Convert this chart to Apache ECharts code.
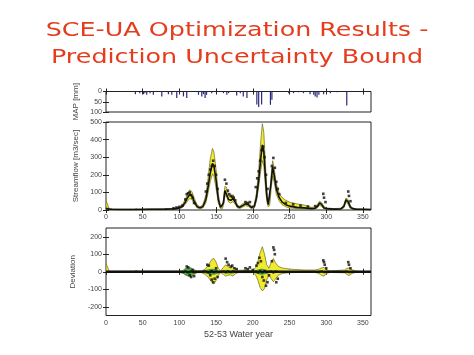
<!DOCTYPE html>
<html><head><meta charset="utf-8">
<script src="https://cdn.jsdelivr.net/npm/echarts@6/dist/echarts.min.js"></script>
<style>html,body{margin:0;padding:0;background:#fff}#c{width:474px;height:355px}</style>
</head><body><div id="c"></div>
<script>
// ---- Title ----
const titleLines = ['SCE-UA Optimization Results -', 'Prediction Uncertainty Bound'];

// ---- Top panel: MAP [mm] (daily precipitation) ----
const mapDays = [40,46,51,53,55.5,60,64.5,76,85,89.6,96.4,105.5,110,126,130.5,132.7,135,137,144,160,164.6,167,178,183,187,192,205.5,208,212,224,226,249,255.5,262,269,278,283,285,287.5,290,296.5,305.6,314.7,328];
const mapMm   = [13,8,13,8,16,8,16,24,13,16,32,24,32,16,24,13,32,16,8,8,16,8,19,8,24,32,64,75,64,65,40,8,8,4,8,13,16,24,29,16,13,8,4,68];

// ---- Middle panel: streamflow [m3/sec] ----
const days = [0,2,4,8,20,40,41,42,60,80,90,95,100,104,108,111,114,117,120,124,128,132,136,139,142,145,147,150,153,156,158,160,162,164,167,170,173,176,179,182,186,190,194,198,202,205,208,211,213,215,217,219,221,223,225,227,229,232,236,240,245,250,260,270,280,285,288,291,294,297,300,310,320,324,327,330,333,336,340,350,361];
const simFlow = [10,8,5,4,3,3,8,3,4,5,6,8,12,20,45,70,88,80,50,20,12,20,60,130,210,265,250,170,60,15,8,40,110,105,60,55,65,45,20,15,25,35,30,15,20,70,170,300,370,330,200,80,30,40,160,245,200,120,70,45,30,22,15,12,8,10,20,40,30,12,8,5,6,20,58,45,15,8,5,4,3];
const upperFlow = [50,35,10,6,5,5,10,5,6,7,9,12,18,30,60,90,115,105,70,30,18,30,85,180,290,350,330,230,90,25,15,60,135,130,80,75,88,60,30,22,35,45,40,22,30,100,230,400,490,440,280,120,50,60,200,280,240,150,95,70,55,45,35,28,15,18,32,50,40,20,12,8,10,30,68,58,25,12,7,5,4];
const lowerFlow = [5,4,3,2,2,2,5,2,2,3,4,5,8,14,32,50,65,60,35,12,8,12,40,95,160,205,190,120,40,8,4,25,80,80,45,40,48,32,12,8,16,25,20,8,12,50,130,230,280,250,140,50,18,25,120,195,160,90,50,30,18,12,8,6,4,5,12,28,18,6,4,3,3,12,45,32,8,4,3,2,2];
const obsDays = [92,96,100,104,108,110,112,114,116,118,120,136,138,140,142,144,146,148,150,152,162,164,166,168,170,172,174,176,190,193,196,204,206,208,210,212,214,216,218,220,226,228,230,232,234,236,245,255,265,275,285,296,297,299,330,331,333];
const obsFlow = [10,14,18,25,60,90,95,100,85,70,40,105,150,200,230,250,280,250,200,120,172,150,110,90,80,75,70,55,45,40,45,130,180,220,280,340,360,300,200,120,250,296,240,160,120,90,40,32,25,20,22,92,70,45,105,80,50];

// ---- Bottom panel: deviation ----
const devDays = [0,2,4,6,40,41,42,100,105,108,112,116,120,124,130,135,140,144,147,150,153,156,160,163,166,170,173,176,180,190,200,204,207,210,213,216,219,222,225,228,231,235,240,250,270,285,290,294,297,300,305,325,328,331,335,340,345,361];
const devUpper = [42,30,5,3,3,10,3,3,8,18,25,22,12,5,5,15,40,70,76,55,20,5,25,40,30,20,28,15,8,10,8,25,60,110,143,100,40,20,55,76,50,30,22,15,10,10,15,22,25,12,5,10,20,20,12,5,2,2];
const devLower = [-2,-2,-2,-2,-2,-2,-2,-3,-8,-18,-25,-28,-15,-5,-5,-15,-35,-60,-70,-50,-20,-5,-15,-25,-20,-18,-25,-12,-5,-5,-5,-20,-50,-90,-110,-95,-45,-20,-40,-57,-40,-20,-10,-5,-4,-4,-10,-22,-25,-10,-4,-6,-15,-22,-10,-4,-2,-2];
const devGreenUp = [1,1,1,1,1,1,1,1,4,15,20,18,8,2,2,6,12,14,14,12,6,2,4,8,8,6,8,4,2,2,2,6,10,14,14,12,8,4,4,6,4,2,2,1,1,1,2,4,4,2,1,1,3,3,2,1,1,1];
const devGreenLo = [-1,-1,-1,-1,-1,-1,-1,-1,-4,-15,-22,-20,-8,-2,-2,-6,-12,-14,-14,-12,-6,-2,-4,-8,-8,-6,-8,-4,-2,-2,-2,-6,-10,-14,-14,-12,-8,-4,-4,-6,-4,-2,-2,-1,-1,-1,-2,-4,-4,-2,-1,-1,-3,-3,-2,-1,-1,-1];
const devLine = [0,0,0,0,0,10,0,0,-2,2,-3,2,-2,0,0,2,-3,3,-2,2,-2,0,2,-2,2,-2,2,0,0,2,0,2,-3,3,-3,3,-2,0,2,-3,2,0,0,0,0,0,0,2,-2,0,0,0,2,-2,0,0,0,0];
const devObsDays = [110,112,114,116,118,120,138,140,142,144,146,148,150,152,163,165,167,170,172,175,178,190,193,196,200,205,207,209,211,213,215,218,220,222,226,228,229,230,232,234,296,297,298,300,330,331,333];
const devObs = [30,25,-20,-30,10,-25,40,35,-20,-45,-60,-40,20,-30,75,55,40,30,35,20,15,20,15,25,10,35,50,80,60,-30,-50,-80,-60,-20,60,139,125,100,-60,-40,65,55,40,20,55,40,20];

// ---- axis ticks ----
const xTicks = [0,50,100,150,200,250,300,350];
const mapTicks = [0,50,100];
const flowTicks = [0,100,200,300,400,500];
const devTicks = [-200,-100,0,100,200];

const LABEL = {fontFamily:'Liberation Sans', fontSize:7, color:'#444'};
const grids = [
  {left:106, top:91.5, width:265, height:20.5},
  {left:106, top:122, width:265, height:88},
  {left:106, top:228, width:265, height:87.5}
].map(g => Object.assign(g, {show:true, borderColor:'#222', borderWidth:1, containLabel:false}));

function xAx(gi, pos, labels, name) {
  return {
    type:'value', gridIndex:gi, position:pos, min:0, max:361,
    axisLine:{show:false}, splitLine:{show:false},
    axisTick:{show:true, inside:true, length:3, customValues:xTicks, lineStyle:{color:'#222'}},
    axisLabel:Object.assign({show:labels, customValues:xTicks, margin:4}, LABEL),
    name: name || '', nameLocation:'middle', nameGap:15,
    nameTextStyle:{fontFamily:'Liberation Sans', fontSize:9, color:'#444'}
  };
}
function yAx(gi, pos, min, max, ticks, labels, name, inverse, gap) {
  return {
    type:'value', gridIndex:gi, position:pos, min, max, inverse: !!inverse,
    axisLine:{show:false}, splitLine:{show:false},
    axisTick:{show:true, inside:true, length:3, customValues:ticks, lineStyle:{color:'#222'}},
    axisLabel:Object.assign({show:labels, customValues:ticks, margin:4}, LABEL),
    name: name || '', nameLocation:'middle', nameGap:gap || 16, nameRotate:90,
    nameTextStyle:{fontFamily:'Liberation Sans', fontSize:8, color:'#444'}
  };
}

function band(xi, yi, xs, up, lo, fill, stroke, z) {
  return {
    type:'custom', xAxisIndex:xi, yAxisIndex:yi, z:z, silent:true, clip:true,
    data: xs.map((d,i)=>[d, up[i], lo[i]]),
    encode:{x:0, y:[1,2]},
    renderItem: function(params, api) {
      if (params.dataIndex !== 0) return null;
      const pts = [];
      for (let i=0;i<xs.length;i++) pts.push(api.coord([xs[i], up[i]]));
      for (let i=xs.length-1;i>=0;i--) pts.push(api.coord([xs[i], lo[i]]));
      return {type:'polygon', shape:{points:pts}, style:{fill:fill, stroke:stroke, lineWidth:0.7}};
    }
  };
}
const pair = (a,b) => a.map((d,i)=>[d, b[i]]);

const chart = echarts.init(document.getElementById('c'), null, {renderer:'canvas'});
chart.setOption({
  animation:false,
  backgroundColor:'#fff',
  graphic:[
    {type:'text', x:237, y:31, scaleX:1.27, style:{text:titleLines[0], fill:'#e63c1e', fontFamily:'DejaVu Sans', fontSize:20, textAlign:'center', textVerticalAlign:'middle'}},
    {type:'text', x:237, y:57.5, scaleX:1.27, style:{text:titleLines[1], fill:'#e63c1e', fontFamily:'DejaVu Sans', fontSize:20, textAlign:'center', textVerticalAlign:'middle'}}
  ],
  grid:grids,
  xAxis:[
    xAx(0,'bottom',false), xAx(0,'top',false),
    xAx(1,'bottom',true), xAx(1,'top',false),
    xAx(2,'bottom',true,'52-53 Water year'), xAx(2,'top',false)
  ],
  yAxis:[
    yAx(0,'left',0,100,mapTicks,true,'MAP [mm]',true,14), yAx(0,'right',0,100,mapTicks,false,'',true),
    yAx(1,'left',0,500,flowTicks,true,'Streamflow [m3/sec]',false,16), yAx(1,'right',0,500,flowTicks,false,''),
    yAx(2,'left',-250,250,devTicks,true,'Deviation',false,19), yAx(2,'right',-250,250,devTicks,false,'')
  ],
  series:[
    {type:'bar', xAxisIndex:0, yAxisIndex:0, data:pair(mapDays,mapMm), barWidth:1.2, itemStyle:{color:'#2a2a78'}, silent:true},
    band(2,2,days,upperFlow,lowerFlow,'#f0ea30','#6e6c1c',3),
    {type:'line', xAxisIndex:2, yAxisIndex:2, data:pair(days,simFlow), showSymbol:false, lineStyle:{color:'#111', width:1.6}, z:5, silent:true},
    {type:'scatter', xAxisIndex:2, yAxisIndex:2, data:pair(obsDays,obsFlow), symbol:'rect', symbolSize:2.6, itemStyle:{color:'#111'}, z:6, silent:true},
    band(4,4,devDays,devUpper,devLower,'#f0ea30','#6e6c1c',3),
    band(4,4,devDays,devGreenUp,devGreenLo,'#3cb84a','#2d7a30',4),
    {type:'line', xAxisIndex:4, yAxisIndex:4, data:pair(devDays,devLine), showSymbol:false, lineStyle:{color:'#111', width:2.5}, z:5, silent:true},
    {type:'scatter', xAxisIndex:4, yAxisIndex:4, data:pair(devObsDays,devObs), symbol:'rect', symbolSize:2.6, itemStyle:{color:'#111'}, z:6, silent:true}
  ]
});
</script></body></html>
